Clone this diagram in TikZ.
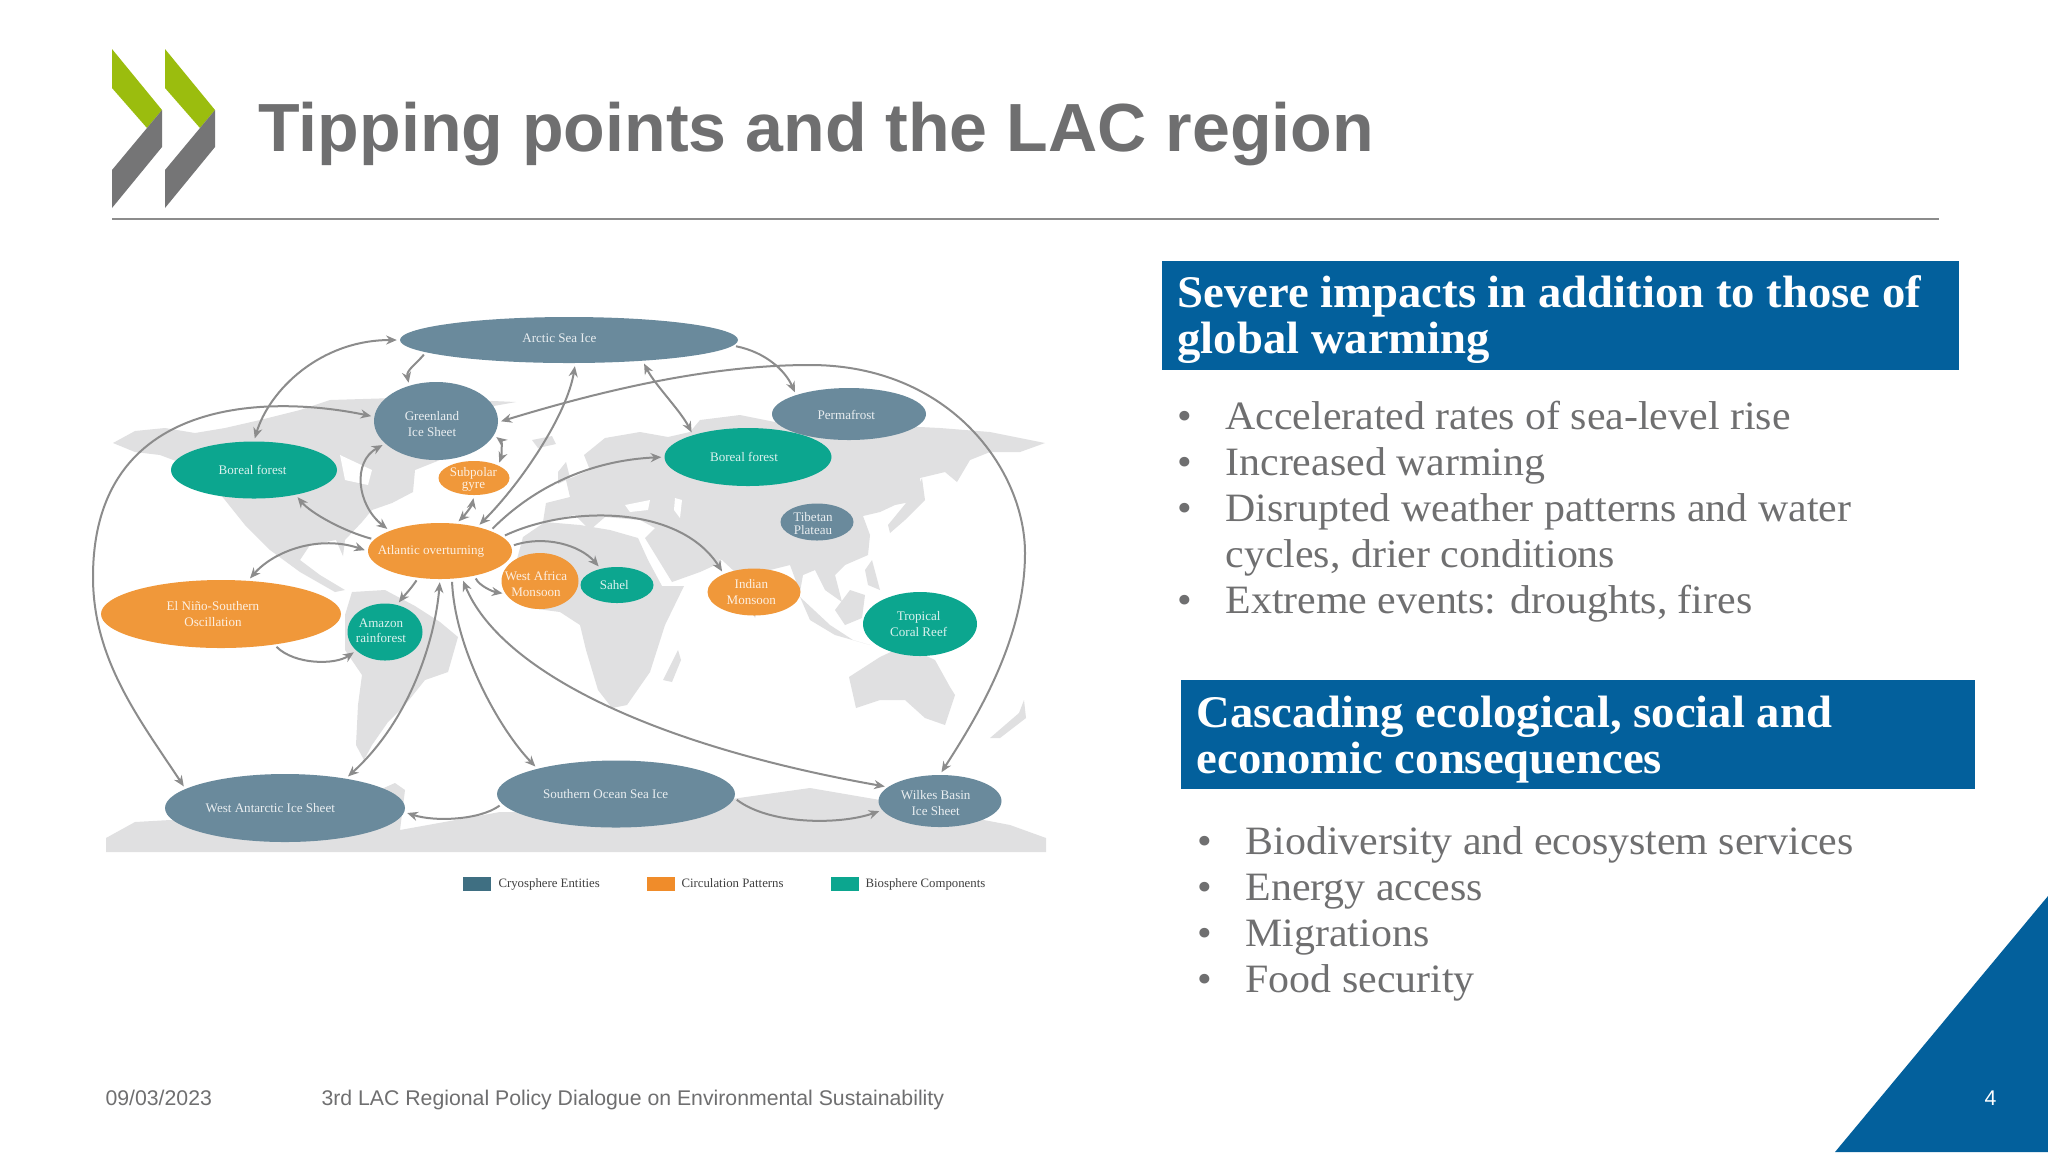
\documentclass[tikz,border=0pt]{standalone}
\usepackage{fontspec}
\setmainfont{Liberation Serif}
\newfontfamily\sansf{Liberation Sans}
\newfontfamily\widebody[FakeStretch=1.04]{Liberation Serif}
\newfontfamily\widehead[FakeStretch=1.03]{Liberation Serif}
\usetikzlibrary{shapes.geometric,arrows.meta}
\definecolor{cryo}{HTML}{6A8A9C}
\definecolor{cryodark}{HTML}{3F6F82}
\definecolor{circ}{HTML}{F0983A}
\definecolor{circdark}{HTML}{F08C2A}
\definecolor{bio}{HTML}{0CA68F}
\definecolor{land}{HTML}{E0E0E1}
\definecolor{oecdblue}{HTML}{03609C}
\definecolor{greytext}{HTML}{6F6F70}
\definecolor{logogreen}{HTML}{9BBD0E}
\definecolor{logogrey}{HTML}{757576}
\definecolor{linkgrey}{HTML}{8C8C8C}
\tikzset{
  x=0.375pt,y=-0.375pt,
  lab/.style={inner sep=0pt,align=center,text=white,text opacity=0.85,font=\fontsize{4.9}{5.9}\selectfont},
  ent/.style={ellipse,inner sep=0pt},
  cryonode/.style={ent,fill=cryo},
  circnode/.style={ent,fill=circ},
  bionode/.style={ent,fill=bio},
  sz/.style 2 args={minimum width=#1*0.375pt,minimum height=#2*0.375pt},
  txt/.style n args={3}{label={[lab,xshift=#1pt,yshift=#2pt]center:#3}},
  link/.style={draw=linkgrey,line width=0.75pt,shorten >=1pt,shorten <=1pt},
  one/.style={link,-{Stealth[length=4pt,width=3.4pt]}},
  both/.style={link,{Stealth[length=4pt,width=3.4pt]}-{Stealth[length=4pt,width=3.4pt]}},
  head/.style={anchor=base west,inner sep=0pt,text=white,font=\widehead\fontsize{17}{18}\selectfont\bfseries},
  bodytext/.style={anchor=base west,inner sep=0pt,text=greytext,font=\widebody\fontsize{15.1}{17}\selectfont},
  foot/.style={anchor=base west,inner sep=0pt,text=greytext,font=\sansf\fontsize{7.97}{10}\selectfont},
  legendtext/.style={anchor=base west,inner sep=0pt,text=black!75,font=\fontsize{4.8}{6}\selectfont},
  swatch/.style={minimum width=10.6pt,minimum height=5.4pt,inner sep=0pt},
}
\begin{document}
\begin{tikzpicture}
\useasboundingbox[fill=white] (0,0) rectangle (2048,1152);
% corner triangle
\fill[oecdblue] (1835,1152) -- (2048,896) -- (2048,1152) -- cycle;
% logo
\foreach \d in {0,53}{
  \fill[logogreen] (112+\d,49) -- (162+\d,110) -- (147+\d,128) -- (112+\d,88) -- cycle;
  \fill[logogrey] (162+\d,110) -- (162+\d,147) -- (112+\d,208) -- (112+\d,170) -- (147+\d,128) -- cycle;
}
\node[anchor=base west,inner sep=0pt,text=greytext,font=\sansf\bfseries\fontsize{25.55}{30}\selectfont] (title) at (258,151) {Tipping points and the LAC region};
\draw[linkgrey,line width=0.6pt] (112,219) -- (1939,219);
% world map
\begin{scope}[fill=land]
% North America
\fill (113,443) -- (135,431) -- (165,428) -- (195,433) -- (225,428) -- (260,420) -- (300,410) -- (330,400) -- (395,398) -- (470,400) -- (516,402) -- (460,412) -- (440,460) -- (415,470) -- (413,492) -- (392,503) -- (372,510) -- (362,522) -- (345,540) -- (343,556) -- (336,540) -- (310,545) -- (300,560) -- (320,575) -- (345,590) -- (335,592) -- (300,572) -- (270,550) -- (245,525) -- (225,500) -- (200,470) -- (160,455) -- (135,452) -- cycle;
% South America
\fill (352,592) -- (385,590) -- (415,606) -- (440,622) -- (458,637) -- (448,672) -- (425,680) -- (405,705) -- (388,722) -- (372,745) -- (364,760) -- (356,745) -- (358,705) -- (362,675) -- (345,650) -- (345,615) -- cycle;
% Africa
\fill (523,537) -- (545,522) -- (580,525) -- (610,530) -- (638,538) -- (648,560) -- (662,586) -- (684,586) -- (665,625) -- (650,672) -- (627,705) -- (612,708) -- (598,690) -- (586,650) -- (580,625) -- (560,612) -- (530,608) -- (510,585) -- cycle;
% Eurasia
\fill (543,522) -- (546,503) -- (570,497) -- (566,480) -- (590,470) -- (584,455) -- (605,438) -- (640,432) -- (668,437) -- (690,432) -- (700,420) -- (740,415) -- (790,425) -- (830,438) -- (880,425) -- (940,428) -- (990,432) -- (1045,443) -- (1020,452) -- (990,452) -- (970,460) -- (957,482) -- (945,472) -- (920,478) -- (920,500) -- (895,505) -- (880,512) -- (863,516) -- (870,535) -- (868,555) -- (845,565) -- (835,575) -- (842,602) -- (825,590) -- (815,570) -- (803,575) -- (800,592) -- (790,565) -- (770,570) -- (755,618) -- (735,572) -- (722,560) -- (705,555) -- (695,540) -- (722,562) -- (700,572) -- (672,582) -- (645,538) -- (655,528) -- (640,520) -- (605,517) -- (590,530) -- (575,515) -- (560,518) -- cycle;
% islands
\fill (915,492) -- (922,478) -- (925,500) -- (905,520) -- (890,533) -- (888,525) -- cycle;
\fill (800,597) -- (830,625) -- (853,640) -- (870,645) -- (835,635) -- (810,620) -- cycle;
\fill (835,610) -- (850,590) -- (865,595) -- (862,618) -- (845,625) -- cycle;
\fill (865,570) -- (872,560) -- (880,590) -- (868,585) -- cycle;
\fill (532,440) -- (552,436) -- (556,444) -- (538,448) -- cycle;
\fill (558,472) -- (566,462) -- (570,478) -- (558,484) -- cycle;
% Australia
\fill (849,677) -- (880,657) -- (895,650) -- (920,653) -- (935,660) -- (950,687) -- (955,695) -- (945,725) -- (925,718) -- (905,700) -- (880,700) -- (856,708) -- cycle;
\fill (663,680) -- (678,650) -- (681,660) -- (672,682) -- cycle;
\fill (1019,713) -- (1024,700) -- (1026,718) -- (1000,738) -- (990,738) -- cycle;
% Antarctica
\fill (106,852) -- (106,838) -- (135,822) -- (170,820) -- (300,825) -- (395,783) -- (405,790) -- (400,830) -- (500,812) -- (640,812) -- (760,795) -- (810,788) -- (880,800) -- (1010,825) -- (1046,838) -- (1046,852) -- cycle;
\end{scope}
\fill[white] (340,455) -- (372,470) -- (368,485) -- (345,480) -- cycle;
\fill[white] (675,498) -- (682,500) -- (680,518) -- (674,510) -- cycle;
\fill[white] (625,505) -- (650,500) -- (648,510) -- (630,512) -- cycle;
% entities
\node[cryonode,sz={338}{46},txt={-3.6}{0.5}{Arctic Sea Ice}] (arctic) at (569,340) {};
\node[cryonode,sz={124}{78},txt={-1.5}{-1}{Greenland\\Ice Sheet}] (greenland) at (436,421) {};
\node[bionode,sz={166}{57},txt={-0.5}{0}{Boreal forest}] (borealna) at (254,470) {};
\node[circnode,sz={71}{34},txt={-0.2}{-0.5}{Subpolar\\[-1.5pt]gyre}] (subpolar) at (474,478) {};
\node[circnode,sz={144}{56},txt={-3.4}{0}{Atlantic overturning}] (atlantic) at (440,551) {};
\node[circnode,sz={77}{56},txt={-1.5}{-1.2}{West Africa\\Monsoon}] (wafrica) at (540,581) {};
\node[bionode,sz={73}{36},txt={-1}{0}{Sahel}] (sahel) at (617,585) {};
\node[circnode,sz={240}{68},txt={-3}{0}{El Niño-Southern\\Oscillation}] (enso) at (221,614) {};
\node[bionode,sz={75}{57},txt={-1.5}{0.5}{Amazon\\[-0.4pt]rainforest}] (amazon) at (385,632) {};
\node[cryonode,sz={154}{52},txt={-1}{-0.5}{Permafrost}] (permafrost) at (849,414) {};
\node[bionode,sz={167}{58},txt={-1.5}{0}{Boreal forest}] (borealeu) at (748,457) {};
\node[cryonode,sz={73}{37},txt={-1.5}{-0.4}{Tibetan\\[-1pt]Plateau}] (tibet) at (817,522) {};
\node[circnode,sz={93}{47},txt={-1}{0}{Indian\\Monsoon}] (indian) at (754,592) {};
\node[bionode,sz={114}{64},txt={-0.5}{0}{Tropical\\Coral Reef}] (coral) at (920,624) {};
\node[cryonode,sz={240}{68},txt={-5.5}{0}{West Antarctic Ice Sheet}] (wais) at (285,808) {};
\node[cryonode,sz={238}{67},txt={-3.9}{0}{Southern Ocean Sea Ice}] (soice) at (616,794) {};
\node[cryonode,sz={123}{52},txt={-1.6}{-0.7}{Wilkes Basin\\Ice Sheet}] (wilkes) at (940,801) {};
% way points of the long arcs
\coordinate (wp) at (93,577);
\coordinate (ea) at (810,365);
\coordinate (eb) at (1025,553);
% connectors
\draw[both] (arctic.180) .. controls +(-80,0) and +(15,-50) .. (borealna.90);
\draw[one] (arctic.185) .. controls +(-10,12) and +(-3,-15) .. (greenland.127);
\draw[both] (greenland.176) .. controls (270,395) and (93,395) .. (wp) .. controls (93,660) and (140,720) .. (wais.169);
\draw[both] (greenland.359) .. controls (620,385) and (720,365) .. (ea) .. controls (950,365) and (1025,470) .. (eb) .. controls (1025,640) and (975,720) .. (wilkes.90);
\draw[both] (greenland.-14) .. controls +(8,6) and +(3,-8) .. (subpolar.28);
\draw[both] (greenland.204) .. controls (352,462) and (357,505) .. (atlantic.158);
\draw[link,{Stealth[length=4pt,width=3.4pt]}-] (borealna.329) .. controls +(15,18) and +(-30,-8) .. (atlantic.170);
\draw[both] (subpolar.270) .. controls +(-2,10) and +(8,-8) .. (atlantic.59);
\draw[both] (arctic.285) .. controls +(-8,50) and +(45,-45) .. (atlantic.33);
\draw[one] (atlantic.22) .. controls +(50,-50) and +(-65,3) .. (borealeu.180);
\draw[one] (atlantic.13) .. controls (570,505) and (680,505) .. (indian.149);
\draw[one] (atlantic.4) .. controls (545,535) and (580,545) .. (sahel.135);
\draw[both] (arctic.344) .. controls (655,385) and (680,410) .. (borealeu.158);
\draw[one] (arctic.358) .. controls (765,352) and (785,370) .. (permafrost.160);
\draw[both] (atlantic.180) .. controls (320,535) and (275,550) .. (enso.51);
\draw[one] (atlantic.324) .. controls +(5,10) and +(-12,-2) .. (wafrica.200);
\draw[one] (atlantic.231) .. controls (410,590) and (403,597) .. (amazon.66);
\draw[one] (enso.330) .. controls (295,665) and (335,665) .. (amazon.213);
\draw[both] (atlantic.270) .. controls (435,640) and (410,720) .. (wais.26);
\draw[one] (atlantic.293) .. controls (455,650) and (500,730) .. (soice.162);
\draw[both] (atlantic.309) .. controls (500,670) and (650,745) .. (wilkes.165);
\draw[one] (soice.185) .. controls (480,820) and (435,822) .. (wais.358);
\draw[one] (soice.358) .. controls (770,825) and (840,825) .. (wilkes.189);
% legend
\node[swatch,fill=cryodark] (s1) at (477,884) {};
\node[legendtext] (l1) at (498,887) {Cryosphere Entities};
\node[swatch,fill=circdark] (s2) at (661,884) {};
\node[legendtext] (l2) at (681,887) {Circulation Patterns};
\node[swatch,fill=bio] (s3) at (845,884) {};
\node[legendtext] (l3) at (865,887) {Biosphere Components};
% boxes
\fill[oecdblue] (1162,261) rectangle (1959,370);
\node[head] (h1a) at (1177,307) {Severe impacts in addition to those of};
\node[head] (h1b) at (1177,353) {global warming};
\fill[oecdblue] (1181,680) rectangle (1975,789);
\node[head] (h2a) at (1196,727) {Cascading ecological, social and};
\node[head] (h2b) at (1196,773) {economic consequences};
% lists
\node[bodytext] (b0) at (1177,429) {•};
\node[bodytext] (t0) at (1225,429) {Accelerated rates of sea-level rise};
\node[bodytext] (b1) at (1177,475) {•};
\node[bodytext] (t1) at (1225,475) {Increased warming};
\node[bodytext] (b2) at (1177,521) {•};
\node[bodytext] (t2) at (1225,521) {Disrupted weather patterns and water};
\node[bodytext] (t3) at (1225,567) {cycles, drier conditions};
\node[bodytext] (b4) at (1177,613) {•};
\node[bodytext] (t4) at (1225,613) {Extreme events: droughts, fires};
\node[bodytext] (c0) at (1197,854) {•};
\node[bodytext] (d0) at (1245,854) {Biodiversity and ecosystem services};
\node[bodytext] (c1) at (1197,900) {•};
\node[bodytext] (d1) at (1245,900) {Energy access};
\node[bodytext] (c2) at (1197,946) {•};
\node[bodytext] (d2) at (1245,946) {Migrations};
\node[bodytext] (c3) at (1197,992) {•};
\node[bodytext] (d3) at (1245,992) {Food security};
% footer
\node[foot] (date) at (105,1105) {09/03/2023};
\node[foot] (event) at (321,1105) {3rd LAC Regional Policy Dialogue on Environmental Sustainability};
\node[foot,text=white] (page) at (1984,1105) {4};
\end{tikzpicture}
\end{document}
